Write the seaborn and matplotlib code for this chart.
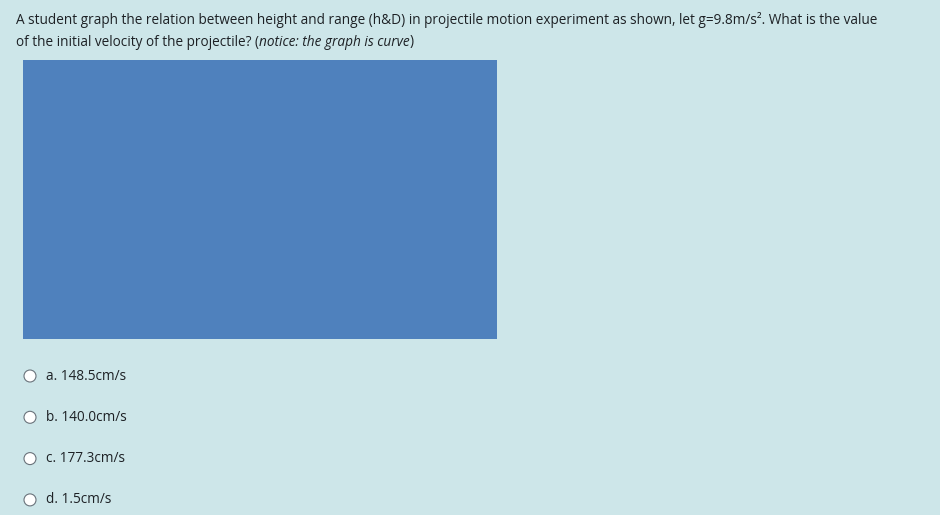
import matplotlib
matplotlib.use("Agg")
import matplotlib.pyplot as plt
import matplotlib.patches as mpatches
import seaborn as sns
import pandas as pd

# values
range_d = [21, 30, 37, 43, 48, 52, 57, 61]
height_h = [10, 20, 30, 40, 50, 60, 70, 80]
x_ticks = [0, 10, 20, 30, 40, 50, 60, 70]
y_ticks = [0, 10, 20, 30, 40, 50, 60, 70, 80, 90]
options = ["a. 148.5cm/s", "b. 140.0cm/s", "c. 177.3cm/s", "d. 1.5cm/s"]

sns.set_style("white")
plt.rcParams['font.family'] = ['Open Sans', 'DejaVu Sans']

W, H = 940, 515
fig = plt.figure(figsize=(W / 100, H / 100), dpi=100)
fig.patch.set_facecolor('#cde6e9')

# question text
fig.text(16 / W, 1 - 20 / H, "A student graph the relation between height and range (h&D) in projectile motion experiment as shown, let g=9.8m/s². What is the value",
         fontsize=9.8, color='#1d2125', va='center')
fig.text(16 / W, 1 - 42 / H, "of the initial velocity of the projectile? (", fontsize=9.8, color='#1d2125', va='center')
fig.text(16 / W, 1 - 42 / H, "of the initial velocity of the projectile? (" + "notice: the graph is curve" + ")",
         fontsize=9.8, color='#cde6e9', va='center', alpha=0)
t1 = "of the initial velocity of the projectile? ("
fig.canvas.draw()
r = fig.canvas.get_renderer()
tmp = fig.text(0, 0, t1, fontsize=9.8)
w1 = tmp.get_window_extent(r).width / W
tmp.remove()
it = fig.text(16 / W + w1, 1 - 42 / H, "notice: the graph is curve", fontsize=9.8, style='italic',
              color='#1d2125', va='center')
w2 = it.get_window_extent(r).width / W
fig.text(16 / W + w1 + w2, 1 - 42 / H, ")", fontsize=9.8, color='#1d2125', va='center')

# chart panel
fig.patches.append(mpatches.Rectangle((23 / W, 1 - 339 / H), 474 / W, 279 / H,
                                      transform=fig.transFigure, facecolor='#4f81bd',
                                      edgecolor='none', zorder=0))

ax = fig.add_axes([82 / W, 1 - 290 / H, 400 / W, 215 / H])
ax.set_facecolor('#4f81bd')
df = pd.DataFrame({'D': range_d, 'h': height_h})
sns.lineplot(data=df, x='D', y='h', ax=ax, color='#b8c8e0', linewidth=2.5,
             marker='o', markersize=7, markerfacecolor='#4f81bd',
             markeredgecolor='white', markeredgewidth=2)
ax.set_xlim(0, 70)
ax.set_ylim(0, 90)
ax.set_xticks(x_ticks)
ax.set_yticks(y_ticks)
ax.grid(True, color='#94b0d6', linewidth=0.8)
ax.set_axisbelow(True)
for s in ax.spines.values():
    s.set_color('#94b0d6')
    s.set_linewidth(0.8)
ax.tick_params(colors='white', labelsize=7, length=0)
ax.set_xlabel("D(cm)", color='white', fontsize=7.5, fontweight='bold', labelpad=6)
ax.set_ylabel("h(cm)", color='white', fontsize=7.5, fontweight='bold', labelpad=10)

# answer options
for i, opt in enumerate(options):
    y = 376 + i * 41.3
    fig.patches.append(mpatches.Ellipse((30 / W, 1 - y / H), 12 / W, 12 / H,
                                        transform=fig.transFigure, facecolor='white',
                                        edgecolor='#6a737b', linewidth=0.8))
    fig.text(46 / W, 1 - y / H, opt, fontsize=9.8, color='#1d2125', va='center')

fig.savefig("out.png", dpi=100, facecolor=fig.get_facecolor())
